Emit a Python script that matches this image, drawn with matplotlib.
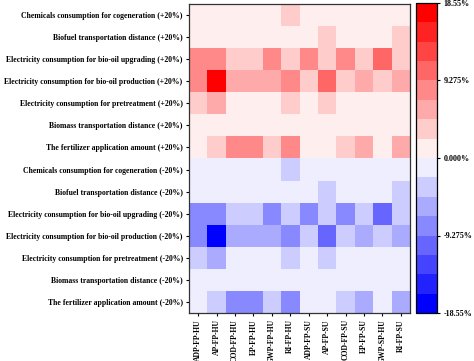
import numpy as np
import matplotlib
matplotlib.use('Agg')
from matplotlib import pyplot as plt
from matplotlib.colors import ListedColormap, BoundaryNorm

plt.rcParams['font.family'] = 'Liberation Serif'
plt.rcParams['font.weight'] = 'bold'

# ---------------------------------------------------------------- data

rows = ['Chemicals consumption for cogeneration (+20%)',
        'Biofuel transportation distance (+20%)',
        'Electricity consumption for bio-oil upgrading (+20%)',
        'Electricity consumption for bio-oil production (+20%)',
        'Electricity consumption for pretreatment (+20%)',
        'Biomass transportation distance (+20%)',
        'The fertilizer application amount (+20%)',
        'Chemicals consumption for cogeneration (-20%)',
        'Biofuel transportation distance (-20%)',
        'Electricity consumption for bio-oil upgrading (-20%)',
        'Electricity consumption for bio-oil production (-20%)',
        'Electricity consumption for pretreatment (-20%)',
        'Biomass transportation distance (-20%)',
        'The fertilizer application amount (-20%)']

cols = ['ADP-FP-HU', 'AP-FP-HU', 'COD-FP-HU', 'EP-FP-HU', 'GWP-FP-HU', 'RI-FP-HU',
        'ADP-FP-SU', 'AP-FP-SU', 'COD-FP-SU', 'EP-FP-SU', 'GWP-SP-HU', 'RI-FP-SU']

# sensitivity (%)
chem_up   = [0.5, 0.6, 0.4, 0.5, 0.8, 3.2, 0.3, 0.9, 0.4, 0.6, 0.5, 0.9]
fuel_up   = [0.6, 0.7, 0.5, 0.6, 1.1, 1.4, 0.8, 3.4, 0.7, 1.0, 0.9, 3.6]
upgr_up   = [8.1, 8.3, 3.6, 3.4, 8.4, 3.8, 8.2, 3.5, 8.0, 3.3, 10.6, 3.5]
prod_up   = [8.2, 18.55, 6.1, 6.0, 6.3, 8.5, 3.6, 10.4, 3.5, 6.2, 3.4, 6.1]
pret_up   = [3.5, 5.9, 1.2, 1.0, 1.3, 3.7, 1.1, 3.6, 0.9, 1.2, 0.8, 1.0]
bioms_up  = [0.4, 0.5, 0.6, 0.5, 0.7, 0.9, 0.3, 0.6, 0.5, 0.6, 0.4, 0.7]
fert_up   = [1.8, 3.6, 8.3, 8.2, 3.5, 8.4, 0.9, 1.2, 3.4, 6.0, 1.1, 6.2]
chem_dn   = [-0.5, -0.6, -0.4, -0.5, -0.8, -3.2, -0.3, -0.9, -0.4, -0.6, -0.5, -0.9]
fuel_dn   = [-0.6, -0.7, -0.5, -0.6, -1.1, -1.4, -0.8, -3.4, -0.7, -1.0, -0.9, -3.6]
upgr_dn   = [-8.1, -8.3, -3.6, -3.4, -8.4, -3.8, -8.2, -3.5, -8.0, -3.3, -10.6, -3.5]
prod_dn   = [-8.2, -18.55, -6.1, -6.0, -6.3, -8.5, -3.6, -10.4, -3.5, -6.2, -3.4, -6.1]
pret_dn   = [-3.5, -5.9, -1.2, -1.0, -1.3, -3.7, -1.1, -3.6, -0.9, -1.2, -0.8, -1.0]
bioms_dn  = [-0.4, -0.5, -0.6, -0.5, -0.7, -0.9, -0.3, -0.6, -0.5, -0.6, -0.4, -0.7]
fert_dn   = [-1.8, -3.6, -8.3, -8.2, -3.5, -8.4, -0.9, -1.2, -3.4, -6.0, -1.1, -6.2]

cbar_ticks = [-18.55, -9.275, 0.0, 9.275, 18.55]
cbar_labels = ['-18.55%', '-9.275%', '0.000%', '9.275%', '18.55%']

# ---------------------------------------------------------------- plot

Z = np.array([chem_up, fuel_up, upgr_up, prod_up, pret_up, bioms_up, fert_up,
              chem_dn, fuel_dn, upgr_dn, prod_dn, pret_dn, bioms_dn, fert_dn])

nlev = 16
bounds = np.linspace(-18.55, 18.55, nlev + 1)
cmap = ListedColormap(plt.get_cmap('bwr')(np.linspace(0, 1, nlev)))
norm = BoundaryNorm(bounds, nlev)

fig = plt.figure(figsize=(4.74, 3.61), dpi=100)
ax = fig.add_axes([189/474, 48/361, 221/474, 309/361])
cax = fig.add_axes([416/474, 48/361, 21/474, 310/361])

im = ax.pcolormesh(Z, cmap=cmap, norm=norm)
ax.set_xlim(0, len(cols))
ax.set_ylim(len(rows), 0)
ax.set_xticks(np.arange(len(cols)) + 0.5)
ax.set_xticklabels(cols, rotation=90, fontsize=5.5, fontweight='bold')
ax.set_yticks(np.arange(len(rows)) + 0.5)
ax.set_yticklabels(rows, fontsize=5.6, fontweight='bold')
ax.tick_params(length=2.5, width=0.8, pad=2)
for s in ax.spines.values():
  s.set_linewidth(0.9)
  s.set_color('#333333')

cb = fig.colorbar(im, cax=cax, ticks=cbar_ticks)
cb.minorticks_off()
cb.ax.set_yticklabels(cbar_labels, fontsize=5.8, fontweight='bold')
cb.ax.tick_params(length=2.5, width=0.8, pad=2)
cb.outline.set_linewidth(0.9)

fig.savefig('out.png', dpi=100)
